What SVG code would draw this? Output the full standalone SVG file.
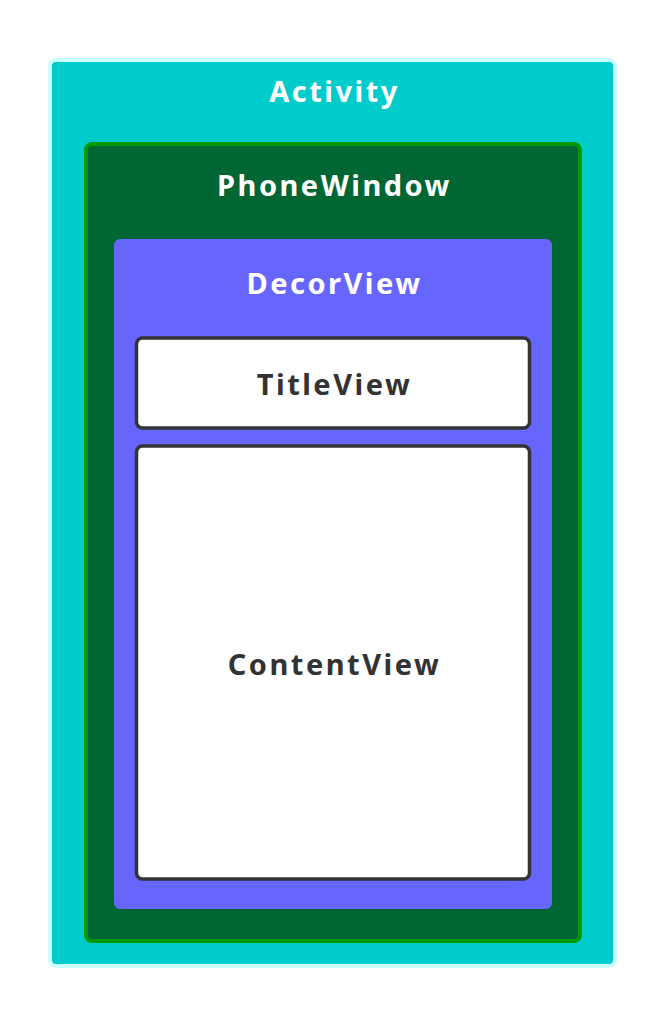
<svg xmlns="http://www.w3.org/2000/svg" width="666" height="1018" viewBox="0 0 666 1018">
<style>
.t{font-family:"Noto Sans","Open Sans","Liberation Sans",sans-serif;font-weight:bold;font-size:29px;letter-spacing:2.5px;text-anchor:middle;dominant-baseline:central}
.w{fill:#ffffff}
.d{fill:#333333}
.view{fill:#ffffff;stroke:#333333;stroke-width:3.5}
</style>
<rect width="666" height="1018" fill="#ffffff"/>
<g id="activity">
<rect x="50" y="60" width="565" height="906" rx="6" fill="#00cccc" stroke="#ccffff" stroke-width="4"/>
<text class="t w" x="334.5" y="90">Activity</text>
</g>
<g id="phonewindow">
<rect x="86" y="144" width="494" height="797" rx="6" fill="#006633" stroke="#009900" stroke-width="4"/>
<text class="t w" x="334.5" y="184">PhoneWindow</text>
</g>
<g id="decorview">
<rect x="114" y="239" width="438" height="670" rx="6" fill="#6666ff"/>
<text class="t w" x="334.5" y="282">DecorView</text>
</g>
<g id="titleview">
<rect class="view" x="136.5" y="338" width="393" height="90" rx="6"/>
<text class="t d" x="334.5" y="383">TitleView</text>
</g>
<g id="contentview">
<rect class="view" x="136.5" y="446" width="393" height="433" rx="6"/>
<text class="t d" x="334.5" y="663">ContentView</text>
</g>
<g id="connectors"></g>
</svg>
